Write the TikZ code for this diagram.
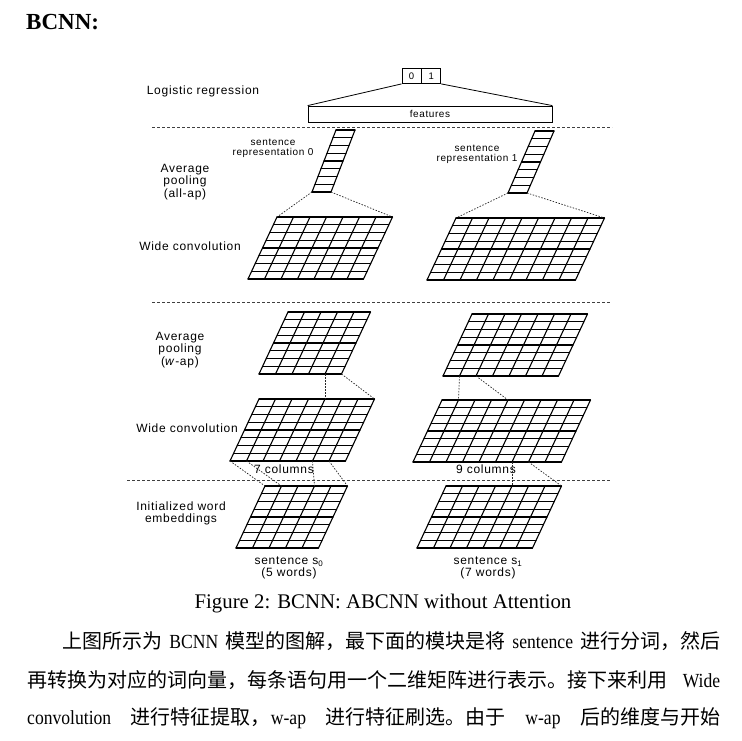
\documentclass[tikz,border=0pt]{standalone}
\usepackage{fontspec}
\setmainfont{Liberation Serif}
\newfontfamily\figfont[LetterSpace=6]{Liberation Sans}
\newfontfamily\cjkfont{Noto Sans CJK SC}
\newfontfamily\narrowserif[FakeStretch=0.88]{Liberation Serif}
\usetikzlibrary{positioning}
\tikzstyle{layertext}=[font=\figfont\fontsize{12}{12.5}\selectfont,
                       align=center,
                       inner sep=0pt]
\tikzstyle{smalltext}=[font=\figfont\fontsize{10}{10.2}\selectfont,
                       align=center,
                       inner sep=0pt]
\tikzstyle{outcell}=[draw,
                     line width=0.8pt,
                     minimum width=19pt,
                     minimum height=15pt,
                     inner sep=0pt,
                     font=\figfont\fontsize{9.5}{10}\selectfont]
\tikzstyle{featbox}=[draw,
                     line width=0.8pt,
                     minimum width=244pt,
                     minimum height=16pt,
                     inner sep=0pt,
                     font=\figfont\fontsize{10}{10}\selectfont]
\tikzstyle{gridline}=[line width=1.1pt, line cap=round]
\tikzstyle{sepline}=[line width=0.6pt, dash pattern=on 3pt off 2pt, black!75]
\tikzstyle{poolline}=[line width=0.7pt, dash pattern=on 1.5pt off 1.5pt, black!85]
\tikzstyle{bodytext}=[anchor=west, inner sep=0pt, font=\narrowserif\fontsize{20}{24}\selectfont]

% skewed matrix: name, lower left x, lower left y, columns, column width, slant
\newcommand{\slabgrid}[6]{%
  \foreach \ci in {0,...,#4}{
    \coordinate (#1-b\ci) at ({#2+\ci*#5},#3);
    \coordinate (#1-t\ci) at ({#2+#6+\ci*#5},{#3-62});
    \draw[gridline] (#1-b\ci) -- (#1-t\ci);
  }
  \foreach \ri in {0,...,8}{
    \draw[gridline] ({#2+#6*\ri/8},{#3-62*\ri/8}) -- ++({#4*#5},0);
  }
}
\newcommand{\zhset}{\XeTeXlinebreaklocale "zh"\XeTeXlinebreakskip=0pt plus 1pt minus 0.5pt}

\begin{document}
\begin{tikzpicture}[x=1pt,y=-1pt]
\useasboundingbox (0,0) rectangle (742,741);
\fill[white] (0,0) rectangle (742,741);

\node (head) [anchor=west, inner sep=0pt, font=\bfseries\fontsize{23}{24}\selectfont] at (26,22) {BCNN:};

% logistic regression
\node (lr) [layertext] at (203,91) {Logistic regression};
\node (out0) [outcell] at (411.5,76) {0};
\node (out1) [outcell,right=0pt of out0] {1};
\node (feat) [featbox] at (430,114) {features};
\draw[line width=0.8pt] (out0.south west) -- (feat.north west);
\draw[line width=0.8pt] (out1.south east) -- (feat.north east);
\draw[sepline] (152,127) -- (612,127);

% all-ap
\node (allap) [layertext] at (185,182) {Average\\pooling\\(all-ap)};
\node (rep0) [smalltext] at (273,148) {sentence\\representation 0};
\node (rep1) [smalltext] at (477,154) {sentence\\representation 1};
\slabgrid{repA}{312}{192}{1}{19}{24}
\slabgrid{repB}{508}{193}{1}{19}{27}
\node (wide1) [layertext] at (190,246.5) {Wide convolution};
\slabgrid{convA}{248}{279}{7}{16.5}{29}
\slabgrid{convB}{427}{280}{9}{16.5}{29}
\draw[poolline] (repA-b0) -- (convA-t0);
\draw[poolline] (repA-b1) -- (convA-t7);
\draw[poolline] (repB-b0) -- (convB-t0);
\draw[poolline] (repB-b1) -- (convB-t9);
\draw[sepline] (152,302) -- (610,302);

% w-ap
\node (wap) [layertext] at (180,350) {Average\\pooling\\(\textit{w}-ap)};
\slabgrid{poolA}{259}{374}{5}{16.5}{29}
\slabgrid{poolB}{443}{376}{7}{16.5}{29}
\node (wide2) [layertext] at (187,428) {Wide convolution};
\slabgrid{convC}{230}{461}{7}{16.5}{29}
\slabgrid{convD}{413}{462}{9}{16.5}{29}
\draw[poolline] (poolA-b4) -- (convC-t4);
\draw[poolline] (poolA-b5) -- (convC-t7);
\draw[poolline] (poolB-b1) -- (convD-t1);
\draw[poolline] (poolB-b2) -- (convD-t4);
\node (cols7) [layertext] at (284,469) {7 columns};
\node (cols9) [layertext] at (486,469) {9 columns};
\draw[sepline] (127,480) -- (610,480);

% word embeddings
\node (embed) [layertext] at (181,513.5) {Initialized word\\embeddings};
\slabgrid{embA}{236}{548}{5}{16.5}{29}
\slabgrid{embB}{417}{548}{7}{16.5}{29}
\draw[poolline] (convC-b0) -- (embA-t0);
\draw[poolline] (convC-b1) -- (embA-t1);
\draw[poolline] (convC-b5) -- (embA-t3);
\draw[poolline] (convC-b6) -- (embA-t5);
\draw[poolline] (convD-b6) -- (embB-t4);
\draw[poolline] (convD-b7) -- (embB-t7);
\node (sen0) [layertext] at (289,568) {sentence s\textsubscript{0}\\(5 words)};
\node (sen1) [layertext] at (488,568) {sentence s\textsubscript{1}\\(7 words)};

\node (caption) [inner sep=0pt, font=\fontsize{20.8}{24}\selectfont] at (383,604) {Figure 2: BCNN: ABCNN without Attention};

\node (para1) [bodytext] at (62,641) {\zhset\makebox[658pt][s]{{\cjkfont 上图所示为} BCNN {\cjkfont 模型的图解，最下面的模块是将} sentence {\cjkfont 进行分词，然后}}};
\node (para2) [bodytext] at (27,680) {\zhset\makebox[693pt][s]{{\cjkfont 再转换为对应的词向量，每条语句用一个二维矩阵进行表示。接下来利用} Wide}};
\node (para3) [bodytext] at (27,718) {\zhset\makebox[693pt][s]{convolution {\cjkfont 进行特征提取，}w-ap {\cjkfont 进行特征刷选。由于} w-ap {\cjkfont 后的维度与开始}}};
\end{tikzpicture}
\end{document}
